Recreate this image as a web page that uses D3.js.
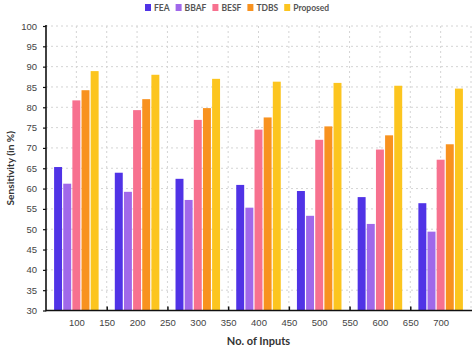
<!DOCTYPE html>
<html><head><meta charset="utf-8">
<script src="https://cdn.jsdelivr.net/npm/d3@7/dist/d3.min.js"></script>
<style>body{margin:0;background:#fff;}svg{display:block;font-family:Lato,"Open Sans",sans-serif;}</style>
</head><body>
<svg id="c" width="474" height="348"></svg>
<script>
const categories = [100, 200, 300, 400, 500, 600, 700];
const seriesNames = ["FEA", "BBAF", "BESF", "TDBS", "Proposed"];
const FEA = [65.3, 63.9, 62.4, 60.9, 59.4, 57.9, 56.4];
const BBAF = [61.2, 59.2, 57.2, 55.3, 53.3, 51.3, 49.4];
const BESF = [81.7, 79.3, 76.9, 74.5, 72.0, 69.6, 67.1];
const TDBS = [84.2, 82.0, 79.8, 77.5, 75.3, 73.1, 70.9];
const Proposed = [88.9, 88.0, 87.0, 86.3, 86.0, 85.3, 84.6];
const xTicks = [100,150,200,250,300,350,400,450,500,550,600,650,700];
const yTicks = [30,35,40,45,50,55,60,65,70,75,80,85,90,95,100];
const colors = ["#5033e6", "#a068ea", "#f7718f", "#f8921f", "#fcc51f"];
const values = [FEA, BBAF, BESF, TDBS, Proposed];

const svg = d3.select("#c");
const L = 46, R = 471, T = 26, B = 310.5;
const x = d3.scaleLinear().domain([50, 750]).range([L, R]);
const y = d3.scaleLinear().domain([30, 100]).range([B, T]);

// grid
const grid = svg.append("g").attr("stroke", "#d4d4d4").attr("stroke-dasharray", "2,3").attr("stroke-width", 1);
grid.selectAll(".h").data(yTicks.filter(v => v > 30)).enter().append("line")
  .attr("x1", L).attr("x2", R).attr("y1", d => y(d)).attr("y2", d => y(d));
grid.selectAll(".v").data(xTicks.concat([750])).enter().append("line")
  .attr("y1", T).attr("y2", B).attr("x1", d => x(d)).attr("x2", d => x(d));

// axes (ticks + labels)
const xAxis = svg.append("g").attr("transform", `translate(0,${B})`)
  .call(d3.axisBottom(x).tickValues(xTicks).tickSizeInner(-4).tickSizeOuter(0).tickPadding(9));
xAxis.select(".domain").remove();
xAxis.selectAll(".tick line").attr("stroke", "#111").attr("stroke-width", 1.5);
xAxis.selectAll("text").attr("font-size", 9.5).attr("fill", "#444");

const yAxis = svg.append("g").attr("transform", `translate(${L},0)`)
  .call(d3.axisLeft(y).tickValues(yTicks).tickSizeInner(3).tickSizeOuter(0).tickPadding(6));
yAxis.select(".domain").remove();
yAxis.selectAll(".tick line").attr("stroke", "#111").attr("stroke-width", 1.2);
yAxis.selectAll("text").attr("font-size", 9.5).attr("fill", "#444");

// bars
const half = (x(125) - x(50)) / 2 - 0.5;
const sub = d3.scaleBand().domain(seriesNames).range([-half, half]).paddingInner(0.13);
const gBars = svg.append("g");
seriesNames.forEach((s, i) => {
  gBars.selectAll(".b" + i).data(categories).enter().append("rect")
    .attr("x", (d) => x(d) + sub(s))
    .attr("width", sub.bandwidth())
    .attr("y", (d, j) => y(values[i][j]))
    .attr("height", (d, j) => y(30) - y(values[i][j]))
    .attr("fill", colors[i]);
});

// axis lines
svg.append("line").attr("x1", L).attr("x2", R + 1).attr("y1", B).attr("y2", B).attr("stroke", "#111").attr("stroke-width", 1.6);
svg.append("line").attr("x1", L).attr("x2", L).attr("y1", T - 1).attr("y2", B + 0.8).attr("stroke", "#111").attr("stroke-width", 1.6);

// axis titles
svg.append("text").attr("x", (L + R) / 2).attr("y", 345).attr("text-anchor", "middle")
  .attr("font-size", 11).attr("font-weight", 700).attr("fill", "#333").text("No. of Inputs");
svg.append("text").attr("transform", `translate(13.5,${(T + B) / 2}) rotate(-90)`).attr("text-anchor", "middle")
  .attr("font-size", 10.2).attr("font-weight", 700).attr("fill", "#333").text("Sensitivity (in %)");

// legend
const lg = svg.append("g");
let lx = 145;
seriesNames.forEach((s, i) => {
  lg.append("rect").attr("x", lx).attr("y", 4).attr("width", 6).attr("height", 7).attr("fill", colors[i]);
  const t = lg.append("text").attr("x", lx + 9).attr("y", 10.8).attr("font-size", 8.5).attr("font-weight", 700)
    .attr("fill", "#555").text(s);
  lx += 9 + t.node().getComputedTextLength() + 6;
});
</script>
</body></html>
